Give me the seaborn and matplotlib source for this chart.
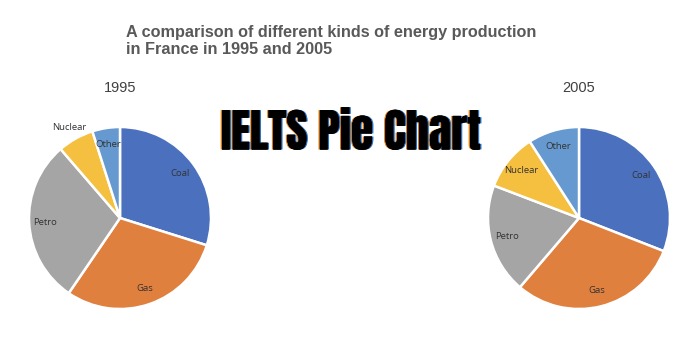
import matplotlib
matplotlib.use("Agg")
import matplotlib.pyplot as plt
import matplotlib.patheffects as pe
import numpy as np
import seaborn as sns

# energy production in France, share in %
sources = ["Coal", "Gas", "Petro", "Nuclear", "Other"]
share_1995 = [29.80, 29.63, 29.10, 6.40, 4.90]
share_2005 = [30.93, 30.31, 19.55, 10.10, 9.10]
years = ["1995", "2005"]
colors = ["#4a70be", "#e0803f", "#a5a5a5", "#f5bf40", "#6699cf"]

sns.set_theme(style="white")
plt.rcParams['font.family'] = ['Liberation Sans', 'DejaVu Sans']

W, H = 700, 347
fig = plt.figure(figsize=(W / 100, H / 100), dpi=100)


def px_axes(cx, cy, r):
    return fig.add_axes([(cx - r) / W, 1 - (cy + r) / H, 2 * r / W, 2 * r / H])


pie_centers = [(120, 218), (579, 218)]
outside = {"1995": ["Nuclear"], "2005": []}

for (cx, cy), vals, year in zip(pie_centers, [share_1995, share_2005], years):
    ax = px_axes(cx, cy, 91)
    wedges, texts = ax.pie(vals, labels=sources, colors=colors, startangle=90,
                           counterclock=False, labeldistance=0.82,
                           wedgeprops=dict(edgecolor='white', linewidth=1.8),
                           textprops=dict(fontsize=6.8, color='#333333',
                                          family=['Open Sans', 'DejaVu Sans']))
    for w, t in zip(wedges, texts):
        t.set_ha('center')
        t.set_va('center')
        if t.get_text() in outside[year]:
            a = np.deg2rad((w.theta1 + w.theta2) / 2)
            t.set_position((1.14 * np.cos(a), 1.14 * np.sin(a)))
    ax.set_xlim(-1, 1)
    ax.set_ylim(-1, 1)
    ax.set_aspect('equal')
    fig.text(cx / W, 1 - 88 / H, year, ha='center', va='center',
             fontsize=10.5, color='#404040')

fig.text(126 / W, 1 - 25 / H,
         "A comparison of different kinds of energy production\nin France in 1995 and 2005",
         ha='left', va='top', fontsize=11.7, fontweight='bold', color='#595959',
         linespacing=1.2)

fig.text(351 / W, 1 - 133 / H, "IELTS Pie Chart", ha='center', va='center',
         fontsize=33, color='black',
         family=['Anton', 'Oswald', 'DejaVu Sans'],
         path_effects=[pe.withSimplePatchShadow(offset=(-1, 0), shadow_rgbFace='#d97a10', alpha=1),
                       pe.withSimplePatchShadow(offset=(1, 0), shadow_rgbFace='#2a6fc0', alpha=1),
                       pe.Normal()])

fig.savefig("out.png", dpi=100)
